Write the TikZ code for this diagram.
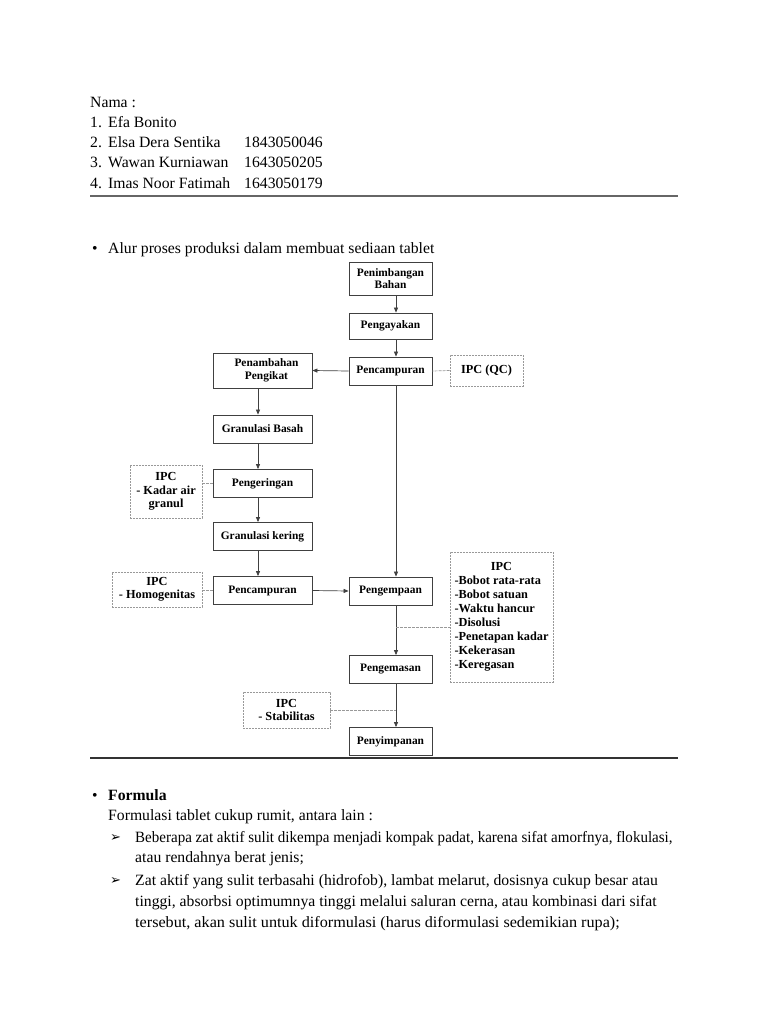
\documentclass[tikz,border=0pt]{standalone}
\usepackage{fontspec}
\setmainfont{Liberation Serif}
\newfontfamily\symfont{DejaVu Sans}
\usetikzlibrary{arrows.meta,calc}
\begin{document}
\begin{tikzpicture}[x=1pt,y=-1pt,
  txt/.style={anchor=base west,inner sep=0pt,font=\fontsize{15.7}{20}\selectfont},
  flowbox/.style={draw=black!75,line width=0.8pt,fill=white,inner sep=1pt,align=center,
    font=\bfseries\fontsize{11.4}{12.5}\selectfont,minimum width=83,minimum height=28},
  ipcbox/.style={draw=black!40,line width=0.8pt,dash pattern=on 2pt off 1pt,fill=white,inner sep=1pt,
    align=center,font=\bfseries\fontsize{12.3}{13.5}\selectfont},
  arr/.style={draw=black!75,line width=0.7pt,-{Triangle[length=5pt,width=4pt]}},
  ipcline/.style={draw=black!40,line width=0.7pt,dash pattern=on 3pt off 1pt},
  rule/.style={draw=black!60,line width=1.6pt},
  sym/.style={anchor=base west,inner sep=0pt,font=\symfont\bfseries\fontsize{13}{14}\selectfont}
]
\useasboundingbox[fill=white] (0,0) rectangle (768,1024);

% header
\node[txt] (nama) at (90,108) {Nama :};
\node[txt] (n1) at (90,128) {1.};
\node[txt] (m1) at (108,128) {Efa Bonito};
\node[txt] (n2) at (90,148) {2.};
\node[txt] (m2) at (108,148) {Elsa Dera Sentika};
\node[txt] (i2) at (244,148) {1843050046};
\node[txt] (n3) at (90,168) {3.};
\node[txt] (m3) at (108,168) {Wawan Kurniawan};
\node[txt] (i3) at (244,168) {1643050205};
\node[txt] (n4) at (90,189) {4.};
\node[txt] (m4) at (108,189) {Imas Noor Fatimah};
\node[txt] (i4) at (244,189) {1643050179};
\draw[rule] (90,196) -- (678,196);

\node[txt] (bul1) at (92,253) {•};
\node[txt] (alur) at (108,253) {Alur proses produksi dalam membuat sediaan tablet};

% flowchart
\node[flowbox,minimum height=33] (timbang) at (390.5,278.5) {Penimbangan\\Bahan};
\node[flowbox,minimum height=26] (ayak) at (390.5,326) {Pengayakan};
\node[flowbox] (campur1) at (390.5,371) {Pencampuran};
\node[ipcbox,minimum width=73,minimum height=31] (qc) at (486.5,370.5) {IPC (QC)};
\node[flowbox,minimum width=99,minimum height=35] (tambah) at (262.5,370.5) {\hspace*{8pt}Penambahan\\\hspace*{8pt}Pengikat};
\node[flowbox,minimum width=99] (basah) at (262.5,429) {Granulasi Basah};
\node[flowbox,minimum width=99] (kering) at (262.5,483.5) {Pengeringan};
\node[flowbox,minimum width=99] (grank) at (262.5,536.5) {Granulasi kering};
\node[flowbox,minimum width=99] (campur2) at (262.5,590.5) {Pencampuran};
\node[ipcbox,minimum width=72,minimum height=53] (kadar) at (166,491.5) {IPC\\- Kadar air\\granul};
\node[ipcbox,minimum width=90,minimum height=35] (homo) at (157,589.5) {IPC\\- Homogenitas};
\node[flowbox] (kempa) at (390.5,591) {Pengempaan};
\node[ipcbox,minimum width=103,minimum height=130,font=\bfseries\fontsize{12.3}{14}\selectfont] (list) at (501.5,617)
  {\begin{tabular}{@{}l@{}}\multicolumn{1}{@{}c@{}}{IPC}\\-Bobot rata-rata\\-Bobot satuan\\-Waktu hancur\\-Disolusi\\-Penetapan kadar\\-Kekerasan\\-Keregasan\end{tabular}};
\node[flowbox] (kemas) at (390.5,669.5) {Pengemasan};
\node[ipcbox,minimum width=87,minimum height=36] (stab) at (286.5,710) {IPC\\- Stabilitas};
\node[flowbox] (simpan) at (390.5,741.5) {Penyimpanan};

\draw[arr] ([xshift=5.5]timbang.south) -- ([xshift=5.5]ayak.north);
\draw[arr] ([xshift=5.5]ayak.south) -- ([xshift=5.5]campur1.north);
\draw[arr] (campur1.west) -- (tambah.east);
\draw[ipcline] (qc.west) -- (campur1.east);
\draw[arr] ([xshift=-4.5]tambah.south) -- ([xshift=-4.5]basah.north);
\draw[arr] ([xshift=-4.5]basah.south) -- ([xshift=-4.5]kering.north);
\draw[arr] ([xshift=-4.5]kering.south) -- ([xshift=-4.5]grank.north);
\draw[arr] ([xshift=-4.5]grank.south) -- ([xshift=-4.5]campur2.north);
\draw[ipcline] (kering.west -| kadar.east) -- (kering.west);
\draw[ipcline] (campur2.west -| homo.east) -- (campur2.west);
\draw[arr] (campur2.east) -- (kempa.west);
\draw[arr] ([xshift=5.5]campur1.south) -- ([xshift=5.5]kempa.north);
\draw[arr] ([xshift=5.5]kempa.south) -- ([xshift=5.5]kemas.north);
\coordinate (j1) at (396,627);
\draw[ipcline] (j1) -- (j1 -| list.west);
\coordinate (j2) at (396,710);
\draw[ipcline] (stab.east) -- (j2);
\draw[arr] ([xshift=5.5]kemas.south) -- ([xshift=5.5]simpan.north);

\draw[rule,draw=black!80] (90,758) -- (678,758);

% bottom text
\node[txt] (bul2) at (92,800) {•};
\node[txt,font=\bfseries\fontsize{15.7}{20}\selectfont] (formula) at (108,800) {Formula};
\node[txt] (f1) at (108,820) {Formulasi tablet cukup rumit, antara lain :};
\node[sym] (ar1) at (110,841) {➢};
\node[txt] (f2) at (135,842) {\scalebox{0.957}[1]{Beberapa zat aktif sulit dikempa menjadi kompak padat, karena sifat amorfnya, flokulasi,}};
\node[txt] (f3) at (135,862) {atau rendahnya berat jenis;};
\node[sym] (ar2) at (110,884) {➢};
\node[txt] (f4) at (135,885) {Zat aktif yang sulit terbasahi (hidrofob), lambat melarut, dosisnya cukup besar atau};
\node[txt] (f5) at (135,906) {tinggi, absorbsi optimumnya tinggi melalui saluran cerna, atau kombinasi dari sifat};
\node[txt] (f6) at (135,927) {\scalebox{1.03}[1]{tersebut, akan sulit untuk diformulasi (harus diformulasi sedemikian rupa);}};
\end{tikzpicture}
\end{document}
